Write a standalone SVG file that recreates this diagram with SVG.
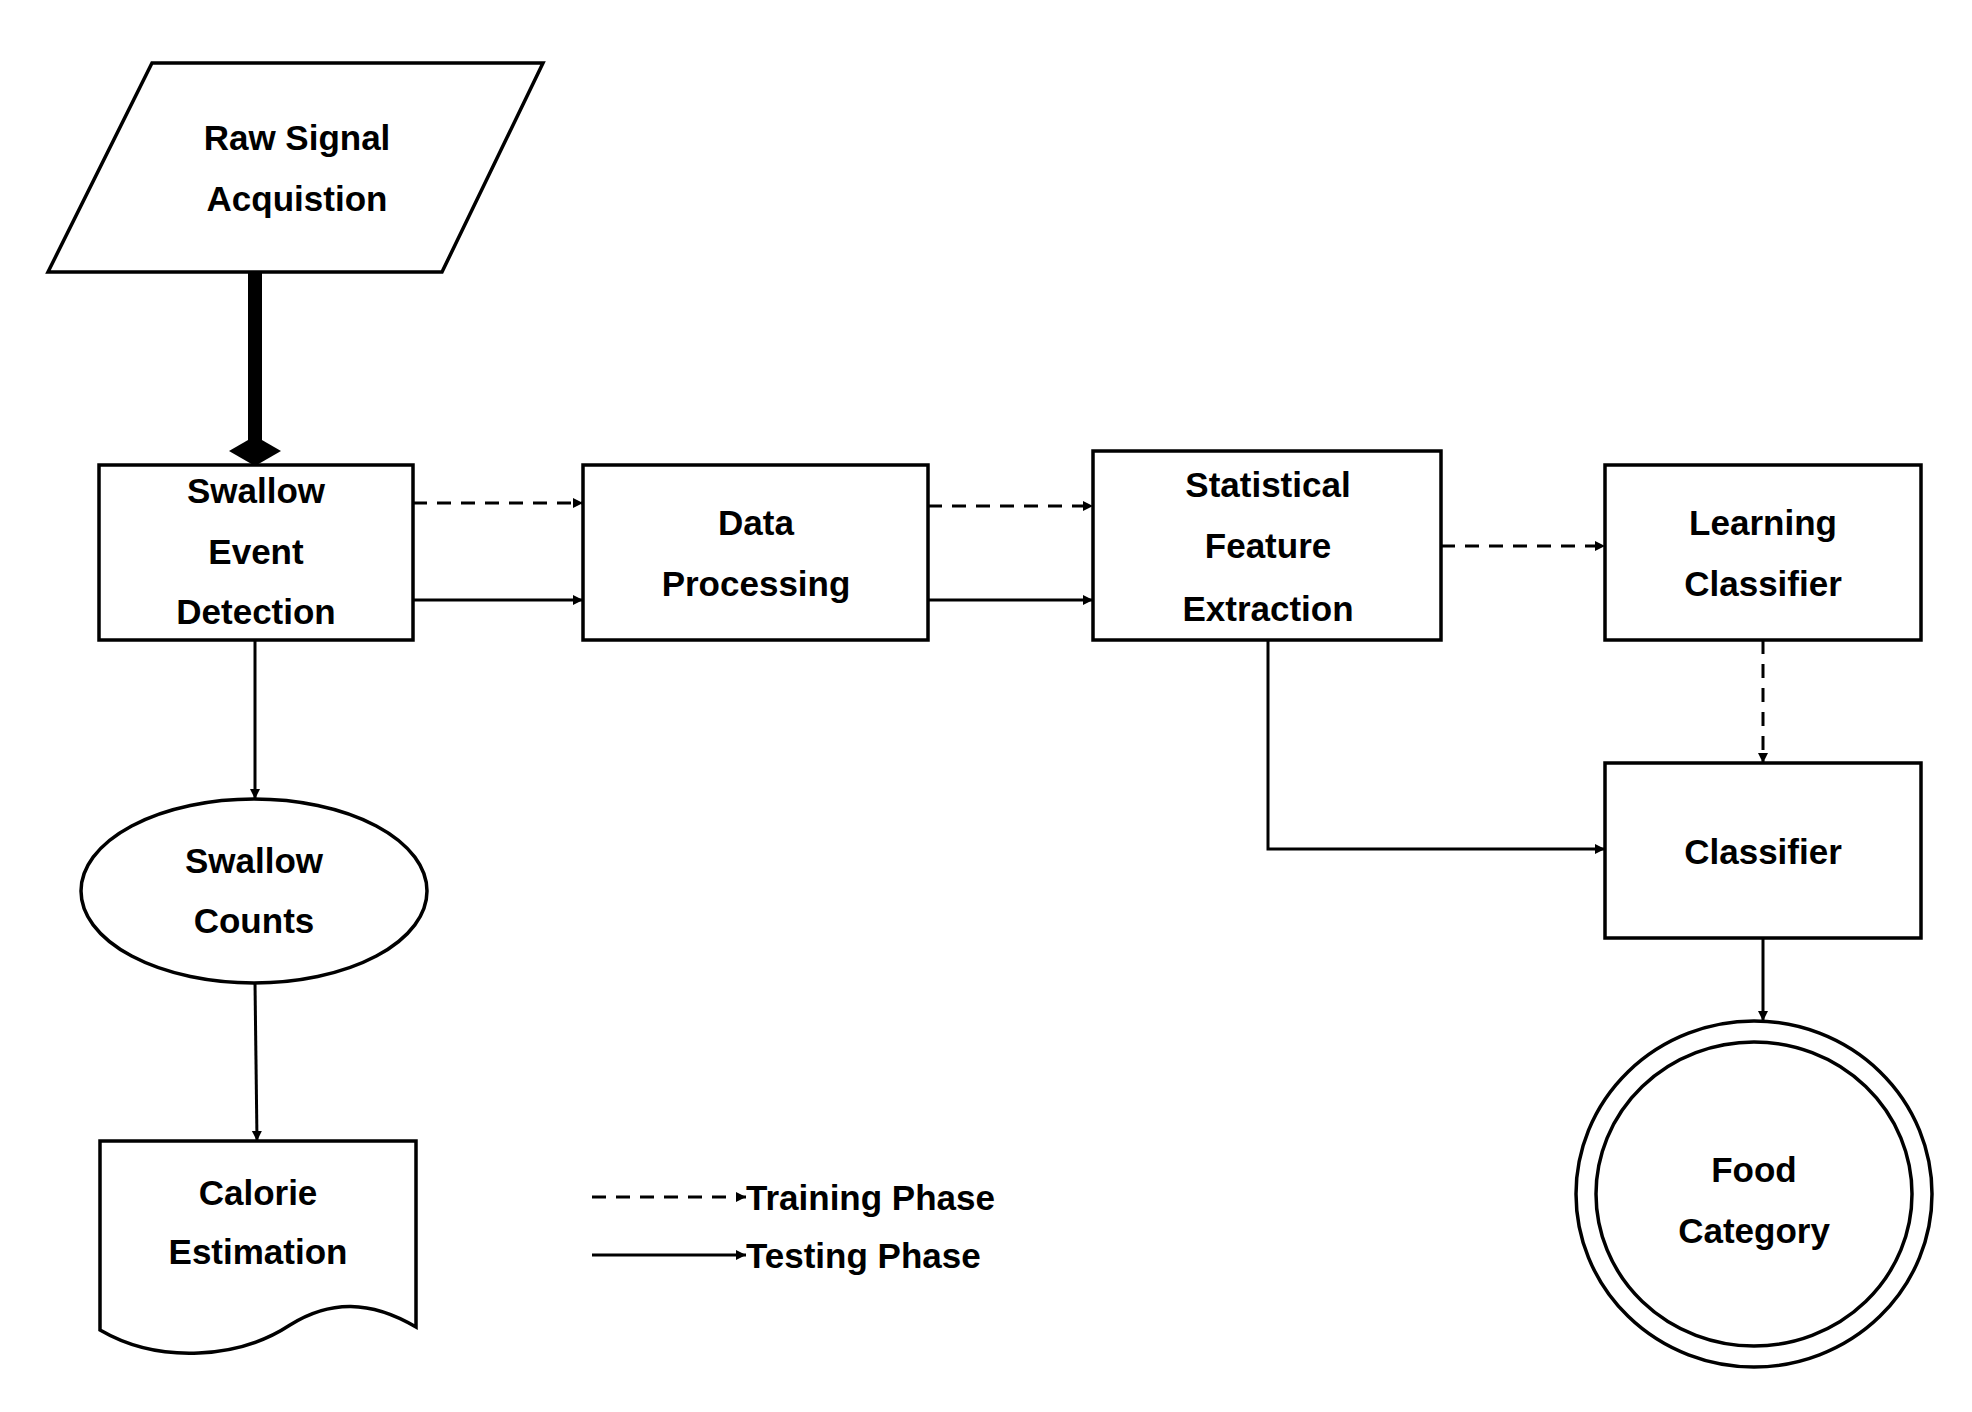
<svg xmlns="http://www.w3.org/2000/svg" width="1972" height="1412" viewBox="0 0 1972 1412">
<defs>
<style>
.s{fill:#fff;stroke:#000;stroke-width:3.5}
.t{font-family:"Liberation Sans",Arial,sans-serif;font-weight:bold;font-size:35px;text-anchor:middle;dominant-baseline:central;fill:#000}
.l{font-family:"Liberation Sans",Arial,sans-serif;font-weight:bold;font-size:35px;dominant-baseline:central;fill:#000}
.c{fill:none;stroke:#000;stroke-width:3}
.d{stroke-dasharray:14 10}
</style>
<marker id="a" markerWidth="12" markerHeight="12" refX="10" refY="6" orient="auto" markerUnits="userSpaceOnUse"><path d="M0,1 L10,6 L0,11 Z" fill="#000"/></marker>
</defs>
<rect width="1972" height="1412" fill="#fff"/>
<g id="connectors">
<path d="M255,272 V440" stroke="#000" stroke-width="14" fill="none"/>
<path d="M255,436 L281,451 L255,466 L229,451 Z" fill="#000"/>
<path class="c d" d="M413,503 H583" marker-end="url(#a)"/>
<path class="c" d="M413,600 H583" marker-end="url(#a)"/>
<path class="c d" d="M928,506 H1093" marker-end="url(#a)"/>
<path class="c" d="M928,600 H1093" marker-end="url(#a)"/>
<path class="c d" d="M1441,546 H1605" marker-end="url(#a)"/>
<path class="c d" d="M1763,640 V763" marker-end="url(#a)"/>
<path class="c" d="M1268,640 V849 H1605" marker-end="url(#a)"/>
<path class="c" d="M1763,938 V1021" marker-end="url(#a)"/>
<path class="c" d="M255,640 V799" marker-end="url(#a)"/>
<path class="c" d="M255,983 L257,1141" marker-end="url(#a)"/>
<path class="c d" d="M592,1197 H746" marker-end="url(#a)"/>
<path class="c" d="M592,1255 H746" marker-end="url(#a)"/>
</g>
<g id="raw"><path class="s" d="M152,63 H543 L442,272 H48 Z"/><text class="t" x="297" y="137">Raw Signal</text><text class="t" x="297" y="198">Acquistion</text></g>
<g id="sed"><rect class="s" x="99" y="465" width="314" height="175"/><text class="t" x="256" y="490">Swallow</text><text class="t" x="256" y="551">Event</text><text class="t" x="256" y="611">Detection</text></g>
<g id="dp"><rect class="s" x="583" y="465" width="345" height="175"/><text class="t" x="756" y="522">Data</text><text class="t" x="756" y="583">Processing</text></g>
<g id="sfe"><rect class="s" x="1093" y="451" width="348" height="189"/><text class="t" x="1268" y="484">Statistical</text><text class="t" x="1268" y="545">Feature</text><text class="t" x="1268" y="608">Extraction</text></g>
<g id="lc"><rect class="s" x="1605" y="465" width="316" height="175"/><text class="t" x="1763" y="522">Learning</text><text class="t" x="1763" y="583">Classifier</text></g>
<g id="cl"><rect class="s" x="1605" y="763" width="316" height="175"/><text class="t" x="1763" y="851">Classifier</text></g>
<g id="food"><ellipse class="s" cx="1754" cy="1194" rx="178" ry="173"/><ellipse class="s" cx="1754" cy="1194" rx="158" ry="152"/><text class="t" x="1754" y="1169">Food</text><text class="t" x="1754" y="1230">Category</text></g>
<g id="sc"><ellipse class="s" cx="254" cy="891" rx="173" ry="92"/><text class="t" x="254" y="860">Swallow</text><text class="t" x="254" y="920">Counts</text></g>
<g id="cal"><path class="s" d="M100,1141 H416 V1327 C370,1300 330,1300 290,1325 C240,1358 160,1365 100,1330 Z"/><text class="t" x="258" y="1192">Calorie</text><text class="t" x="258" y="1251">Estimation</text></g>
<g id="legend"><text class="l" x="746" y="1197">Training Phase</text><text class="l" x="746" y="1255">Testing Phase</text></g>
</svg>
